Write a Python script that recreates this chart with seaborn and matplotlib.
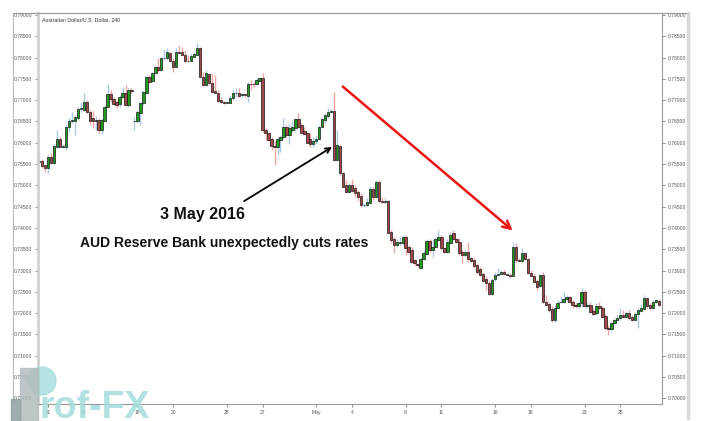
import matplotlib.pyplot as plt
import matplotlib.patches as mpatches
from matplotlib.ticker import FormatStrFormatter
import seaborn as sns
import numpy as np
import pandas as pd

sns.set_theme(style="white")
plt.rcParams["font.family"] = ["Liberation Sans", "DejaVu Sans"]

# AUD/USD, 4h candles. Index 0 = Monday 11 April 2016, 00:00
first_index = -3

opens = [
    .7556, .7558, .7548, .7540, .7566, .7552, .7591, .7609, .7591, .7591,
    .7636, .7652, .7650, .7659, .7679, .7677, .7696, .7673, .7657, .7652,
    .7653, .7631, .7652, .7685, .7714, .7703, .7696, .7691, .7708, .7718,
    .7689, .7724, .7650, .7650, .7671, .7693, .7718, .7754, .7746, .7763,
    .7777, .7771, .7798, .7798, .7810, .7793, .7779, .7812, .7812, .7806,
    .7793, .7793, .7802, .7806, .7822, .7755, .7736, .7761, .7741, .7722,
    .7718, .7700, .7695, .7694, .7694, .7704, .7716, .7718, .7712, .7714,
    .7710, .7739, .7739, .7738, .7746, .7751, .7630, .7624, .7609, .7592,
    .7589, .7607, .7613, .7636, .7618, .7630, .7634, .7655, .7642, .7628,
    .7624, .7610, .7597, .7605, .7609, .7636, .7653, .7664, .7673, .7675,
    .7559, .7592, .7528, .7501, .7485, .7501, .7493, .7485, .7475, .7454,
    .7454, .7459, .7491, .7472, .7509, .7464, .7462, .7463, .7391, .7375,
    .7360, .7365, .7364, .7379, .7356, .7348, .7325, .7315, .7307, .7328,
    .7339, .7370, .7348, .7356, .7372, .7379, .7352, .7344, .7365, .7387,
    .7373, .7368, .7344, .7336, .7344, .7329, .7325, .7313, .7303, .7293,
    .7279, .7271, .7245, .7279, .7289, .7293, .7297, .7291, .7289, .7287,
    .7356, .7325, .7323, .7340, .7326, .7295, .7287, .7275, .7264, .7289,
    .7227, .7221, .7209, .7184, .7213, .7226, .7227, .7232, .7237, .7227,
    .7218, .7217, .7223, .7250, .7217, .7219, .7206, .7201, .7217, .7213,
    .7193, .7166, .7162, .7176, .7184, .7188, .7195, .7192, .7201, .7190,
    .7185, .7198, .7206, .7210, .7235, .7218, .7213, .7226, .7229,
]
highs = [
    .7579, .7563, .7550, .7571, .7575, .7597, .7630, .7614, .7598, .7642,
    .7657, .7673, .7665, .7685, .7696, .7716, .7700, .7677, .7675, .7663,
    .7657, .7657, .7689, .7739, .7724, .7708, .7700, .7712, .7732, .7736,
    .7728, .7728, .7661, .7677, .7696, .7724, .7759, .7759, .7767, .7783,
    .7798, .7802, .7818, .7822, .7814, .7798, .7822, .7830, .7826, .7818,
    .7806, .7810, .7812, .7834, .7824, .7767, .7772, .7763, .7763, .7759,
    .7724, .7708, .7698, .7699, .7712, .7725, .7728, .7728, .7716, .7716,
    .7743, .7747, .7743, .7751, .7754, .7763, .7634, .7626, .7614, .7603,
    .7614, .7618, .7657, .7642, .7646, .7650, .7657, .7669, .7646, .7638,
    .7626, .7622, .7614, .7618, .7642, .7661, .7669, .7681, .7679, .7720,
    .7630, .7595, .7532, .7513, .7505, .7516, .7501, .7489, .7481, .7459,
    .7470, .7498, .7495, .7513, .7513, .7473, .7470, .7466, .7395, .7379,
    .7375, .7379, .7383, .7383, .7360, .7356, .7328, .7318, .7332, .7348,
    .7373, .7375, .7373, .7379, .7395, .7383, .7356, .7373, .7391, .7395,
    .7376, .7376, .7348, .7348, .7368, .7332, .7329, .7317, .7309, .7297,
    .7286, .7275, .7282, .7297, .7305, .7301, .7301, .7293, .7295, .7368,
    .7365, .7329, .7352, .7344, .7329, .7301, .7293, .7279, .7293, .7297,
    .7242, .7227, .7217, .7219, .7231, .7237, .7250, .7242, .7240, .7231,
    .7223, .7227, .7258, .7254, .7227, .7227, .7211, .7223, .7227, .7217,
    .7198, .7172, .7180, .7188, .7195, .7211, .7207, .7206, .7207, .7195,
    .7203, .7211, .7219, .7242, .7237, .7223, .7231, .7232, .7232,
]
lows = [
    .7544, .7540, .7532, .7528, .7550, .7550, .7587, .7589, .7587, .7583,
    .7626, .7646, .7618, .7653, .7673, .7675, .7669, .7642, .7634, .7630,
    .7622, .7620, .7650, .7685, .7696, .7689, .7681, .7685, .7704, .7689,
    .7685, .7718, .7631, .7646, .7642, .7689, .7716, .7741, .7743, .7763,
    .7767, .7769, .7794, .7794, .7790, .7767, .7777, .7808, .7804, .7790,
    .7790, .7791, .7801, .7805, .7754, .7733, .7733, .7736, .7716, .7716,
    .7696, .7693, .7691, .7693, .7693, .7700, .7708, .7707, .7708, .7707,
    .7696, .7724, .7732, .7736, .7743, .7626, .7607, .7603, .7583, .7548,
    .7571, .7579, .7610, .7614, .7597, .7626, .7630, .7636, .7622, .7618,
    .7599, .7591, .7591, .7597, .7607, .7634, .7646, .7657, .7669, .7558,
    .7558, .7524, .7495, .7483, .7483, .7485, .7473, .7464, .7450, .7450,
    .7451, .7459, .7466, .7470, .7462, .7458, .7458, .7387, .7364, .7340,
    .7356, .7360, .7360, .7336, .7340, .7318, .7313, .7309, .7303, .7325,
    .7336, .7344, .7332, .7352, .7370, .7348, .7340, .7342, .7364, .7372,
    .7365, .7336, .7317, .7332, .7321, .7321, .7307, .7293, .7287, .7274,
    .7254, .7242, .7242, .7276, .7287, .7292, .7289, .7286, .7284, .7286,
    .7321, .7321, .7321, .7325, .7293, .7284, .7270, .7254, .7262, .7224,
    .7217, .7203, .7180, .7180, .7211, .7223, .7224, .7229, .7224, .7213,
    .7213, .7213, .7215, .7215, .7213, .7201, .7195, .7198, .7209, .7188,
    .7160, .7149, .7159, .7174, .7182, .7185, .7188, .7188, .7185, .7182,
    .7184, .7164, .7203, .7207, .7213, .7209, .7211, .7223, .7217,
]
closes = [
    .7558, .7545, .7541, .7566, .7553, .7592, .7608, .7591, .7592, .7636,
    .7652, .7653, .7660, .7679, .7681, .7696, .7673, .7650, .7652, .7653,
    .7631, .7653, .7685, .7714, .7702, .7691, .7689, .7708, .7718, .7689,
    .7724, .7722, .7651, .7673, .7693, .7720, .7754, .7743, .7763, .7777,
    .7771, .7798, .7799, .7812, .7793, .7779, .7812, .7811, .7806, .7793,
    .7792, .7804, .7808, .7822, .7755, .7736, .7763, .7741, .7720, .7718,
    .7698, .7695, .7694, .7696, .7704, .7716, .7718, .7710, .7714, .7712,
    .7739, .7738, .7738, .7747, .7751, .7630, .7622, .7607, .7592, .7591,
    .7610, .7614, .7636, .7618, .7634, .7636, .7655, .7638, .7624, .7621,
    .7600, .7597, .7605, .7610, .7636, .7655, .7665, .7673, .7675, .7559,
    .7595, .7528, .7497, .7485, .7501, .7487, .7481, .7473, .7454, .7455,
    .7462, .7491, .7472, .7509, .7464, .7462, .7463, .7389, .7372, .7360,
    .7368, .7366, .7379, .7352, .7344, .7321, .7317, .7313, .7328, .7340,
    .7370, .7348, .7356, .7375, .7379, .7352, .7344, .7368, .7383, .7375,
    .7368, .7340, .7336, .7344, .7326, .7323, .7311, .7297, .7289, .7276,
    .7270, .7245, .7278, .7289, .7293, .7297, .7292, .7289, .7286, .7356,
    .7325, .7323, .7340, .7326, .7295, .7286, .7274, .7262, .7289, .7227,
    .7219, .7207, .7184, .7213, .7224, .7227, .7232, .7237, .7227, .7218,
    .7217, .7223, .7250, .7217, .7219, .7203, .7199, .7217, .7211, .7192,
    .7164, .7162, .7176, .7184, .7188, .7195, .7192, .7201, .7188, .7185,
    .7199, .7207, .7211, .7235, .7217, .7212, .7227, .7231, .7219,
]

# date ticks (candle index of the day start)
tick_pos = [0, 12, 30, 42, 60, 72, 90, 102, 120, 132, 150, 162, 180, 192]
tick_labels = ["11", "13", "18", "20", "25", "27", "May", "4",
               "9", "11", "16", "18", "23", "25"]
price_ticks = [0.700, 0.705, 0.710, 0.715, 0.720, 0.725, 0.730, 0.735, 0.740,
               0.745, 0.750, 0.755, 0.760, 0.765, 0.770, 0.775, 0.780, 0.785,
               0.790]

df = pd.DataFrame({"open": opens, "high": highs, "low": lows, "close": closes})
df["idx"] = np.arange(len(df)) + first_index
df["up"] = df["close"] >= df["open"]

W, H = 701, 421
fig = plt.figure(figsize=(W / 100, H / 100), dpi=100)
fig.patch.set_facecolor("white")
ax = fig.add_axes([38 / W, 1 - 404 / H, 624 / W, 391 / H])
ax.set_facecolor("white")

# wicks
wick_colors = np.where(df["up"], "#a9c8ea", "#f0a4a4")
ax.vlines(df["idx"], df["low"], df["high"], colors=wick_colors, lw=1.0, zorder=1)

# bodies
body_colors = np.where(df["up"], "#1e9b1e", "#a34848")
bottoms = df[["open", "close"]].min(axis=1)
heights = (df["close"] - df["open"]).abs().clip(lower=0.00002)
ax.bar(df["idx"], heights, bottom=bottoms, width=0.8, color=body_colors,
       edgecolor="#1a1a1a", linewidth=0.5, zorder=2)

ax.set_xlim(-3.36, 206.0)
ax.set_ylim(0.69866, 0.79047)
ax.set_yticks(price_ticks)
ax.yaxis.set_major_formatter(FormatStrFormatter("%.5f"))
ax.set_xticks(tick_pos, tick_labels)
ax.tick_params(axis="y", left=True, right=True, labelleft=True, labelright=True,
               direction="out", length=2.5, width=0.6, color="#777777",
               labelcolor="#555555", labelsize=3.6, pad=1.5)
ax.tick_params(axis="x", bottom=True, direction="out", length=2.5, width=0.6,
               color="#777777", labelcolor="#555555", labelsize=3.6, pad=1.5)
ax.grid(False)

for side in ["top", "right", "bottom"]:
    ax.spines[side].set_color("#9a9a9a")
    ax.spines[side].set_linewidth(0.8)
ax.spines["left"].set_color("#d0d0d0")
ax.spines["left"].set_linewidth(2.0)

ax.text(0.0065, 0.988, "Australian Dollar/U.S. Dollar, 240", transform=ax.transAxes,
        fontsize=3.8, color="#333333", va="top", ha="left")

# arrows
ax.annotate("", xy=(95.3, 0.7590), xytext=(65.8, 0.7463),
            arrowprops=dict(arrowstyle="->", color="black", lw=1.3,
                            mutation_scale=9, shrinkA=0, shrinkB=0), zorder=4)
ax.annotate("", xy=(155.9, 0.7394), xytext=(98.9, 0.7732),
            arrowprops=dict(arrowstyle="->", color="#ee1111", lw=1.8,
                            mutation_scale=14, shrinkA=0, shrinkB=0), zorder=4)

# overlay in pixel coordinates: frame, captions and watermark
ov = fig.add_axes([0, 0, 1, 1], zorder=5)
ov.set_xlim(0, W)
ov.set_ylim(H, 0)
ov.axis("off")
ov.patch.set_alpha(0)

ov.plot([13, 687], [12.5, 12.5], color="#9a9a9a", lw=0.8)
ov.plot([13, 13], [12.5, 401], color="#bbbbbb", lw=0.8)
ov.plot([688, 688], [12.5, 418], color="#d8d8d8", lw=2.5)

ov.text(160, 215, "3 May 2016", fontsize=11.5, weight="bold", color="#111111",
        va="center", ha="left")
ov.text(80, 243, "AUD Reserve Bank unexpectedly cuts rates", fontsize=10,
        weight="bold", color="#111111", va="center", ha="left")

ov.add_patch(mpatches.Circle((42, 381), 14, color="#a4dcdc", alpha=0.8, zorder=1))
ov.add_patch(mpatches.Rectangle((20, 368), 18, 53, color="#b3bebe", alpha=0.85, zorder=2))
ov.add_patch(mpatches.Rectangle((11, 399), 9, 22, color="#8fa0a0", alpha=0.85, zorder=2))
ov.text(40, 390, "rof-FX", fontsize=27, weight="bold", color="#a4dcdc", alpha=0.85,
        va="top", ha="left", zorder=3)

fig.savefig("out.png", dpi=100)
plt.close(fig)
